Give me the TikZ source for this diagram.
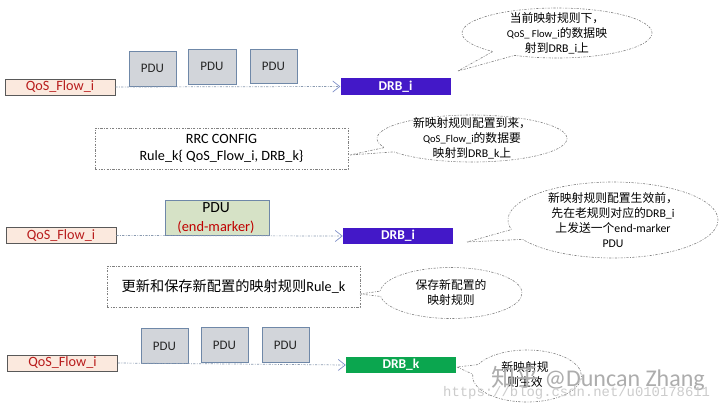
\documentclass[tikz,border=0pt]{standalone}
\usepackage{fontspec}
\setmainfont{Carlito}
\newfontfamily\cjk{Noto Sans CJK SC}
\newfontfamily\wmono{Liberation Mono}
\usetikzlibrary{shapes.callouts,arrows.meta}
\definecolor{peach}{HTML}{FBE9DE}
\definecolor{flowred}{HTML}{B81C1C}
\definecolor{pdugray}{HTML}{D2D5DA}
\definecolor{pduline}{HTML}{6F88A8}
\definecolor{pdugreen}{HTML}{D6E2C6}
\definecolor{drbblue}{HTML}{4318C8}
\definecolor{drbgreen}{HTML}{0BA64F}
\definecolor{flowline}{HTML}{8A9AB0}
\definecolor{arrowc}{HTML}{7F90C8}
\definecolor{dashc}{HTML}{808080}
\newcommand{\cn}[1]{{\cjk #1}}
\tikzset{
  x=1pt,y=-1pt,
  dashdot/.style={dash pattern=on 2.2pt off 1.4pt on 0.8pt off 1.4pt},
  flowbox/.style={draw=black!65,line width=0.7pt,fill=peach,text=flowred,minimum width=110pt,minimum height=16pt,inner sep=0pt,font=\fontsize{14.2}{15}\selectfont},
  pdubox/.style={draw=pduline,line width=0.8pt,fill=pdugray,text=black!85,minimum width=47pt,minimum height=35pt,inner sep=0pt,font=\fontsize{13}{14}\selectfont},
  drbbox/.style={fill=#1,text=white,minimum width=110pt,minimum height=16.5pt,inner sep=0pt,font=\bfseries\fontsize{13.5}{14}\selectfont},
  infobox/.style={draw=dashc,dashdot,line width=0.7pt,fill=white,text=black,inner sep=0pt,align=center,font=\fontsize{14.2}{17.5}\selectfont},
  flowarrow/.style={draw=flowline,dashdot,line width=0.7pt,-{Straight Barb[length=7pt,width=11pt,color=arrowc,line width=0.7pt]}},
  bubble/.style={ellipse callout,draw=dashc,dashdot,line width=0.6pt,fill=white,inner sep=0pt,outer sep=0pt},
  bubbletext/.style={align=center,inner sep=0pt,font=\fontsize{11.8}{15}\selectfont,text=black},
  mark1/.style={text=black!32,inner sep=0pt,font=\fontsize{24}{26}\selectfont},
  mark2/.style={text=black!20,inner sep=0pt,font=\wmono\fontsize{13.9}{15}\selectfont},
}
\begin{document}
\begin{tikzpicture}
\useasboundingbox[fill=white] (0,0) rectangle (720,410);

% row 1
\node[flowbox] (f1) at (60,87) {QoS\_Flow\_i};
\node[drbbox=drbblue] (d1) at (395.5,86.5) {DRB\_i};
\node[pdubox] (p1) at (152.5,68.5) {PDU};
\node[pdubox,minimum width=48pt] (p2) at (212,66.5) {PDU};
\node[pdubox,minimum height=34pt] (p3) at (273.5,66) {PDU};
\draw[flowarrow] (f1.east) -- (d1.west);

% RRC
\node[infobox,minimum width=253pt,minimum height=41pt] (rrc) at (221.5,148.5) {RRC CONFIG\\Rule\_k\{ QoS\_Flow\_i, DRB\_k\}};

% row 2
\node[flowbox] (f2) at (61,235.5) {QoS\_Flow\_i};
\node[drbbox=drbblue] (d2) at (398,236) {DRB\_i};
\node[pdubox,draw=pduline,fill=pdugreen,minimum width=104pt,minimum height=35pt] (p4) at (217,217.5) {};
\node[inner sep=0pt,text=black,font=\fontsize{15.5}{16}\selectfont] (p4a) at (216,208) {PDU};
\node[inner sep=0pt,text=red!75!black,font=\fontsize{14.4}{15}\selectfont] (p4b) at (216,227) {(end-marker)};
\draw[flowarrow] (f2.east) -- (d2.west);

% update box
\node[infobox,minimum width=253pt,minimum height=41pt] (upd) at (233.5,286.5) {\cn{更新和保存新配置的映射规则}Rule\_k};

% row 3
\node[flowbox] (f3) at (62.5,363) {QoS\_Flow\_i};
\node[drbbox=drbgreen] (d3) at (401,365) {DRB\_k};
\node[pdubox] (p5) at (164.5,346) {PDU};
\node[pdubox] (p6) at (224.5,345) {PDU};
\node[pdubox] (p7) at (285.5,345) {PDU};
\draw[flowarrow] (f3.east) -- (d3.west);

% callouts
\node[bubble,minimum width=190pt,minimum height=50pt,callout absolute pointer={(458,71)},callout pointer arc=16] (c1) at (557,33) {};
\node[bubbletext] at (c1) {\cn{当前映射规则下，}\\{\fontsize{10.5}{15}\selectfont QoS\_ Flow\_i}\cn{的数据映}\\\cn{射到}DRB\_i\cn{上}};

\node[bubble,minimum width=190pt,minimum height=47pt,callout absolute pointer={(350,155)},callout pointer arc=12] (c2) at (472,138.5) {};
\node[bubbletext] at (c2) {\cn{新映射规则配置到来，}\\{\fontsize{10.5}{15}\selectfont QoS\_Flow\_i}\cn{的数据要}\\\cn{映射到}DRB\_k\cn{上}};

\node[bubble,minimum width=210pt,minimum height=76pt,callout absolute pointer={(467,242)},callout pointer arc=16] (c3) at (613,220) {};
\node[bubbletext] at (c3) {\cn{新映射规则配置生效前，}\\\cn{先在老规则对应的}DRB\_i\\\cn{上发送一个}end-marker\\PDU};

\node[bubble,minimum width=142pt,minimum height=51pt,callout absolute pointer={(360,294)},callout pointer arc=12] (c4) at (451,293) {};
\node[bubbletext] at (c4) {\cn{保存新配置的}\\\cn{映射规则}};

\node[bubble,minimum width=109pt,minimum height=52pt,callout absolute pointer={(457,367)},callout pointer arc=22] (c5) at (527,376) {};
\node[bubbletext] at (525,375) {\cn{新映射规}\\\cn{则生效}};

% watermark
\node[mark1,anchor=west] (w1) at (491,378) {\cn{知乎} @Duncan Zhang};
\node[mark2,anchor=west] (w2) at (443,393) {https://blog.csdn.net/u010178611};
\end{tikzpicture}
\end{document}
